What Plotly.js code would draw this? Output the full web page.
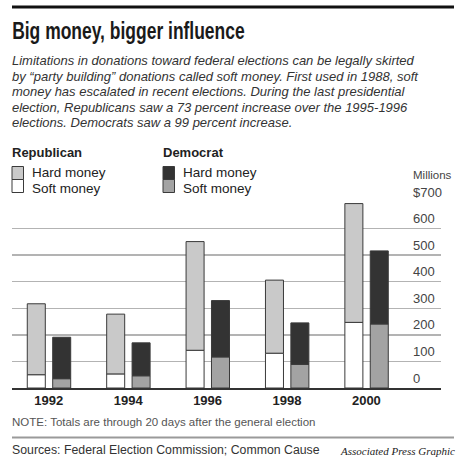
<!DOCTYPE html>
<html>
<head>
<meta charset="utf-8">
<script src="https://cdn.plot.ly/plotly-3.0.1.min.js"></script>
<style>
  html, body { margin: 0; padding: 0; background: #ffffff; }
  #chart { width: 468px; height: 464px; }
  /* condensed headline face: horizontally compress the title annotation text */
  #chart .annotation[data-index="0"] text.annotation-text {
    transform-box: fill-box;
    transform-origin: 0 50%;
    transform: scaleX(0.76);
  }
</style>
</head>
<body>
<div id="chart"></div>
<script>
// ---- Data (millions of dollars) ----
const years = ['1992', '1994', '1996', '1998', '2000'];
const repSoft = [50, 53, 142, 131, 247];
const repHard = [267, 225, 409, 275, 447];
const demSoft = [35, 46, 117, 89, 241];
const demHard = [156, 124, 212, 156, 275];
const yTickVals = [0, 100, 200, 300, 400, 500, 600, 700];
const yTickText = ['0', '100', '200', '300', '400', '500', '600', '$700'];

const titleText = 'Big money, bigger influence';
const introLines = [
  'Limitations in donations toward federal elections can be legally skirted',
  'by \u201cparty building\u201d donations called soft money. First used in 1988, soft',
  'money has escalated in recent elections. During the last presidential',
  'election, Republicans saw a 73 percent increase over the 1995-1996',
  'elections. Democrats saw a 99 percent increase.'
];
const legendGroups = ['Republican', 'Democrat'];
const legendItems = ['Hard money', 'Soft money'];
const noteText = 'NOTE: Totals are through 20 days after the general election';
const sourceText = 'Sources: Federal Election Commission; Common Cause';
const creditText = 'Associated Press Graphic';
const unitText = 'Millions';

// ---- Styling ----
const W = 468, H = 464;
const PL = 12, PR = 441, PT = 202, PB = 388;
const px = v => (v - PL) / (PR - PL);
const py = v => (PB - v) / (PB - PT);
const C = {
  repHard: '#c9c9c9', repSoft: '#ffffff',
  demHard: '#333333', demSoft: '#a3a3a3',
  edge: '#3a3a3a', grid: '#b3b3b3', text: '#222222'
};
const SANS = 'Liberation Sans, Arial, Helvetica, sans-serif';
const SERIF = 'Liberation Serif, Times New Roman, serif';

const barW = 0.227, repOff = -0.271, demOff = 0.049;
function barTrace(name, y, base, off, fill) {
  return {
    type: 'bar', name: name, x: years, y: y, base: base,
    offset: off, width: barW,
    marker: { color: fill, line: { color: C.edge, width: 1 } },
    showlegend: false, hoverinfo: 'skip'
  };
}
const traces = [
  barTrace('Republican soft money', repSoft, years.map(() => 0), repOff, C.repSoft),
  barTrace('Republican hard money', repHard, repSoft, repOff, C.repHard),
  barTrace('Democrat soft money', demSoft, years.map(() => 0), demOff, C.demSoft),
  barTrace('Democrat hard money', demHard, demSoft, demOff, C.demHard)
];

const annotations = [];
const shapes = [];
function ann(text, x, y, opts) {
  annotations.push(Object.assign({
    text: text, xref: 'paper', yref: 'paper', x: px(x), y: py(y),
    xanchor: 'left', yanchor: 'middle', showarrow: false, borderpad: 0,
    font: { family: SANS, size: 13, color: C.text }
  }, opts || {}));
}

// Top rule and title (title must be the first annotation)
shapes.push({ type: 'line', xref: 'paper', yref: 'paper', x0: px(12), x1: px(454), y0: py(7), y1: py(7), line: { color: '#111', width: 3 } });
ann(titleText, 11, 31, { font: { family: SANS, size: 23, color: '#1a1a1a', weight: 700 } });

// Intro text lines
introLines.forEach((line, i) => {
  ann(line, 11, 60.5 + i * 15.6, { font: { family: SANS, size: 13, color: '#333', style: 'italic' } });
});

// Legend
const legendX = [12, 163];
const legendFills = [[C.repHard, C.repSoft], [C.demHard, C.demSoft]];
legendGroups.forEach((g, gi) => {
  ann(g, legendX[gi] - 1, 152, { font: { family: SANS, size: 13, color: C.text, weight: 700 } });
  legendItems.forEach((item, ii) => {
    const top = 166.5 + ii * 13;
    shapes.push({ type: 'rect', xref: 'paper', yref: 'paper',
      x0: px(legendX[gi]), x1: px(legendX[gi] + 11.5), y0: py(top), y1: py(top + 13),
      fillcolor: legendFills[gi][ii], line: { color: C.edge, width: 1 } });
    ann(item, legendX[gi] + 19, 172.5 + ii * 15.5, { font: { family: SANS, size: 13.5, color: C.text } });
  });
});

// Y tick labels (above gridlines, right side)
ann(unitText, 412, 175, { font: { family: SANS, size: 11.5, color: '#444' } });
yTickVals.forEach((v, i) => {
  annotations.push({
    text: yTickText[i], xref: 'paper', yref: 'y', x: px(412), y: v,
    xanchor: 'left', yanchor: 'middle', yshift: 10, showarrow: false, borderpad: 0,
    font: { family: SANS, size: 13, color: '#444' }
  });
});

// Footer
ann(noteText, 11, 422, { font: { family: SANS, size: 11.5, color: '#555' } });
shapes.push({ type: 'line', xref: 'paper', yref: 'paper', x0: px(12), x1: px(454), y0: py(437.5), y1: py(437.5), line: { color: '#9a9a9a', width: 2 } });
ann(sourceText, 11, 450, { font: { family: SANS, size: 12.3, color: '#333' } });
ann(creditText, 456, 451, { xanchor: 'right', font: { family: SERIF, size: 11, color: '#222', style: 'italic' } });

const layout = {
  width: W, height: H,
  margin: { l: PL, r: W - PR, t: PT, b: H - PB, pad: 0 },
  paper_bgcolor: '#ffffff', plot_bgcolor: '#ffffff',
  barmode: 'overlay',
  showlegend: false,
  xaxis: {
    type: 'category', range: [-0.4635, 4.94], fixedrange: true,
    showgrid: false, zeroline: false,
    showline: true, linecolor: '#333', linewidth: 1.5,
    ticks: '', tickfont: { family: SANS, size: 13, color: C.text, weight: 700 }
  },
  yaxis: {
    range: [0, 700], fixedrange: true,
    tickvals: yTickVals, showticklabels: false, ticks: '',
    showgrid: true, gridcolor: C.grid, gridwidth: 1.5,
    zeroline: false, showline: false
  },
  shapes: shapes,
  annotations: annotations
};

Plotly.newPlot('chart', traces, layout, { displayModeBar: false, staticPlot: true });
</script>
</body>
</html>
